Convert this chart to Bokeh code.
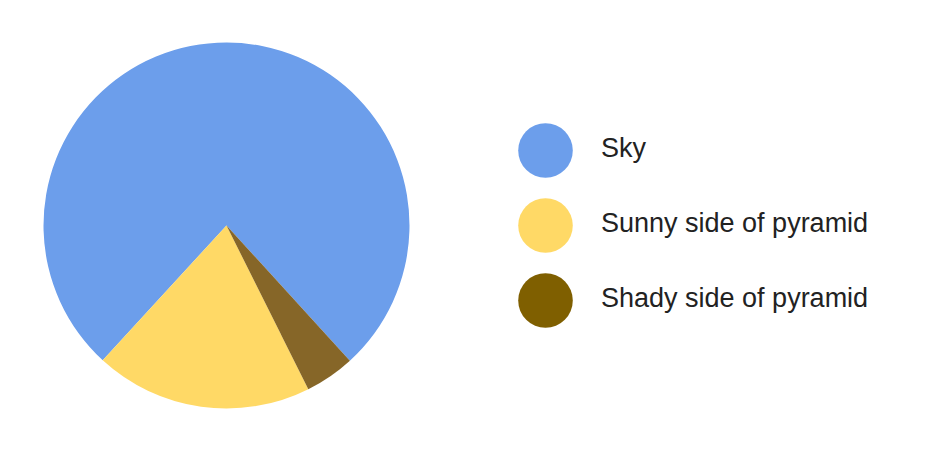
import math
from bokeh.plotting import figure
from bokeh.models import Range1d, ColumnDataSource
from bokeh.core.properties import value
from bokeh.embed import file_html
from bokeh.resources import INLINE

# Data
labels = ["Sky", "Sunny side of pyramid", "Shady side of pyramid"]
shares = [76.4, 19.2, 4.4]
slice_colors = ["#6C9EEB", "#FFD966", "#866628"]
legend_colors = ["#6C9EEB", "#FFD966", "#7F5F00"]

W, H = 922, 453
start_deg = -47.6

total = sum(shares)
starts, ends = [], []
a = math.radians(start_deg)
for v in shares:
    span = 2 * math.pi * v / total
    starts.append(a)
    ends.append(a + span)
    a += span

p = figure(width=W, height=H, output_backend="svg", toolbar_location=None,
           x_range=Range1d(0, W), y_range=Range1d(0, H), min_border=0)
p.axis.visible = False
p.grid.visible = False
p.outline_line_color = None
p.background_fill_color = "white"
p.border_fill_color = "white"

cx, cy, r = 226, 228, 183
src = ColumnDataSource(dict(start=starts, end=ends, color=slice_colors, label=labels))
p.wedge(x=cx, y=cy, radius=r, radius_units="screen", start_angle="start", end_angle="end",
        fill_color="color", line_color=None, source=src)

lx, ly0, step = 545, 303, 75
ys = [ly0 - i * step for i in range(len(labels))]
lsrc = ColumnDataSource(dict(x=[lx] * len(labels), y=ys, color=legend_colors,
                             tx=[lx + 55.5] * len(labels), ty=[y + 2.8 for y in ys], label=labels))
p.scatter(x="x", y="y", size=54.6, marker="circle", fill_color="color", line_color=None, source=lsrc)
p.text(x="tx", y="ty", text="label", text_font=value("Liberation Sans"), text_font_size="27px",
       text_color="#222222", text_baseline="alphabetic", text_align="left", source=lsrc)

open("out.html", "w").write(file_html(p, INLINE))
